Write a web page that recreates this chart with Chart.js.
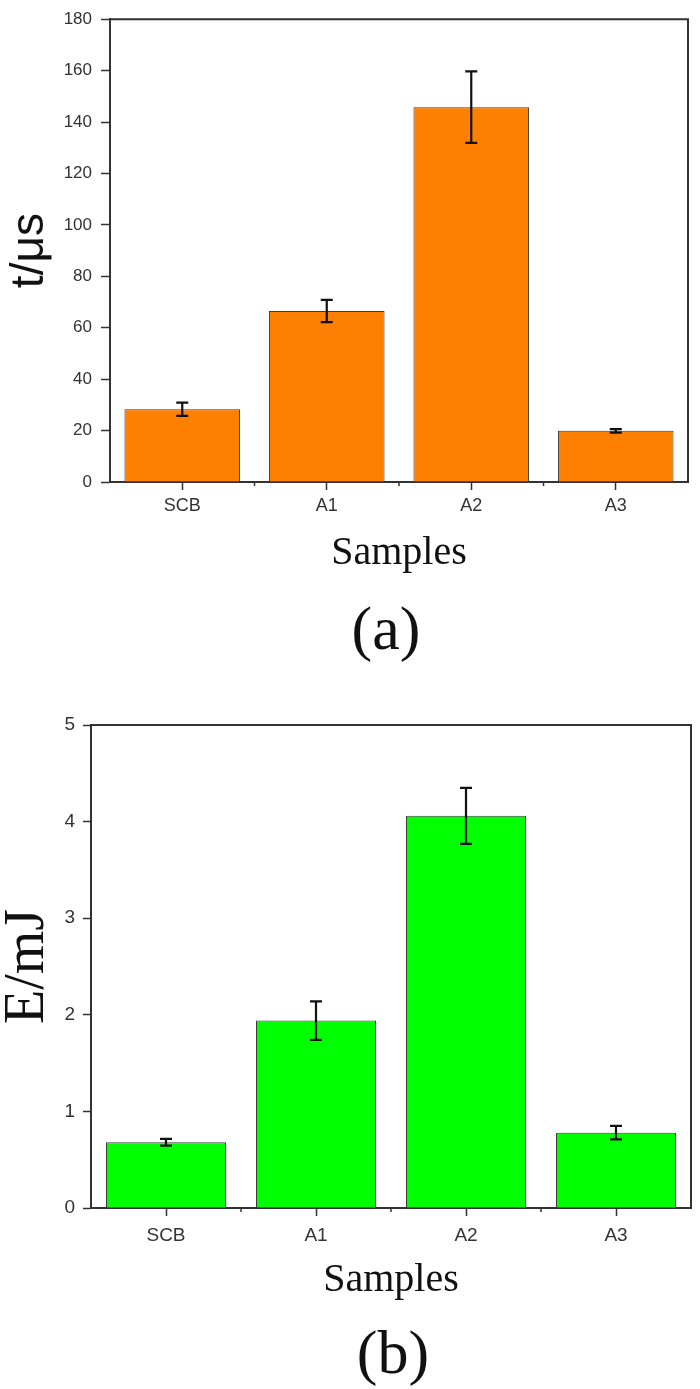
<!DOCTYPE html>
<html>
<head>
<meta charset="utf-8">
<script src="https://cdn.jsdelivr.net/npm/chart.js@4/dist/chart.umd.min.js"></script>
<style>
  body { margin: 0; background: #fff; }
  #wrap { position: relative; width: 700px; height: 1389px; }
  canvas { position: absolute; left: 0; }
  #c1 { top: 0; }
  #c2 { top: 690px; }
  .cap {
    position: absolute;
    font-family: "Liberation Serif", "DejaVu Serif", serif;
    font-size: 62px;
    line-height: 62px;
    color: #111;
    transform: translate(-50%, -50%);
  }
</style>
</head>
<body>
<div id="wrap">
  <canvas id="c1" width="700" height="700"></canvas>
  <canvas id="c2" width="700" height="699"></canvas>
  <div class="cap" style="left:386px; top:628px;">(a)</div>
  <div class="cap" style="left:393px; top:1352px;">(b)</div>
</div>
<script>
// サンプル名
const labels = ["SCB", "A1", "A2", "A3"]

// (a) t/μs
const tValues = [28.3, 66.5, 145.8, 19.9]
const tErrors = [2.6, 4.3, 13.9, 0.7]

// (b) E/mJ
const eValues = [0.68, 1.94, 4.06, 0.78]
const eErrors = [0.035, 0.2, 0.29, 0.07]

const axisColor = "#333"

// error bars, from the y scale
const errorBars = {
  id: "errorBars",
  afterDatasetsDraw(chart, args, opts) {
    const ctx = chart.ctx
    const y = chart.scales.y
    const meta = chart.getDatasetMeta(0)
    const vals = chart.data.datasets[0].data
    ctx.save()
    ctx.strokeStyle = "#111"
    ctx.lineWidth = 2.2
    meta.data.forEach((bar, i) => {
      let hi = y.getPixelForValue(vals[i] + opts.err[i])
      let lo = y.getPixelForValue(vals[i] - opts.err[i])
      ctx.beginPath()
      ctx.moveTo(bar.x, hi)
      ctx.lineTo(bar.x, lo)
      ctx.moveTo(bar.x - 6, hi)
      ctx.lineTo(bar.x + 6, hi)
      ctx.moveTo(bar.x - 6, lo)
      ctx.lineTo(bar.x + 6, lo)
      ctx.stroke()
    })
    ctx.restore()
  },
}

// top/right frame + small ticks between categories
const frame = {
  id: "frame",
  afterDraw(chart) {
    const ctx = chart.ctx
    const a = chart.chartArea
    const x = chart.scales.x
    ctx.save()
    ctx.strokeStyle = axisColor
    ctx.lineWidth = 2
    ctx.beginPath()
    ctx.moveTo(a.left, a.top)
    ctx.lineTo(a.right, a.top)
    ctx.lineTo(a.right, a.bottom)
    ctx.stroke()
    ctx.lineWidth = 1.5
    for (let i = 0; i < labels.length - 1; i++) {
      let mx = (x.getPixelForValue(i) + x.getPixelForValue(i + 1)) / 2
      ctx.beginPath()
      ctx.moveTo(mx, a.bottom)
      ctx.lineTo(mx, a.bottom + 4)
      ctx.stroke()
    }
    ctx.restore()
  },
}

function makeChart(id, cfg) {
  return new Chart(document.getElementById(id), {
    type: "bar",
    data: {
      labels: labels,
      datasets: [
        {
          data: cfg.values,
          backgroundColor: cfg.color,
          borderColor: "#3a3a3a",
          borderWidth: 1,
          barPercentage: 0.8,
          categoryPercentage: 1,
        },
      ],
    },
    plugins: [errorBars, frame],
    options: {
      responsive: false,
      animation: false,
      layout: { padding: cfg.padding },
      plugins: {
        legend: { display: false },
        tooltip: { enabled: false },
        errorBars: { err: cfg.errors },
      },
      scales: {
        x: {
          offset: true,
          grid: {
            offset: false,
            drawOnChartArea: false,
            drawTicks: true,
            tickLength: 8,
            tickWidth: 1.5,
            tickColor: axisColor,
          },
          border: { color: axisColor, width: 2 },
          ticks: {
            color: "#333",
            padding: cfg.xPad,
            font: { family: "Liberation Sans", size: cfg.xFont },
          },
          title: {
            display: true,
            text: "Samples",
            color: "#111",
            padding: 0,
            font: { family: "Liberation Serif", size: 40, lineHeight: 1.2 },
          },
          afterFit(s) {
            s.height = cfg.xHeight
          },
        },
        y: {
          min: 0,
          max: cfg.max,
          grid: {
            drawOnChartArea: false,
            drawTicks: true,
            tickLength: cfg.yTick,
            tickWidth: 1.5,
            tickColor: axisColor,
          },
          border: { color: axisColor, width: 2 },
          ticks: {
            stepSize: cfg.step,
            color: "#333",
            padding: cfg.yTick,
            font: { family: "Liberation Sans", size: cfg.yFont },
          },
          title: {
            display: true,
            text: cfg.yTitle,
            color: "#111",
            padding: { top: cfg.titlePad, bottom: 0 },
            font: { family: cfg.titleFamily, size: cfg.titleSize, lineHeight: 1 },
          },
          afterFit(s) {
            s.width = cfg.yWidth
          },
        },
      },
    },
  })
}

makeChart("c1", {
  values: tValues,
  errors: tErrors,
  color: "#FF8000",
  max: 180,
  step: 20,
  yTitle: "t/μs",
  titleFamily: "Liberation Sans",
  titleSize: 46,
  titlePad: 7,
  yWidth: 110,
  yTick: 9,
  yFont: 17,
  xFont: 18,
  xPad: 5,
  xHeight: 95,
  padding: { top: 15, right: 12, left: 0, bottom: 123 },
})

makeChart("c2", {
  values: eValues,
  errors: eErrors,
  color: "#00FF00",
  max: 5,
  step: 1,
  yTitle: "E/mJ",
  titleFamily: "Liberation Serif",
  titleSize: 56,
  titlePad: 0,
  yWidth: 91,
  yTick: 8,
  yFont: 19,
  xFont: 19,
  xPad: 8,
  xHeight: 96,
  padding: { top: 35, right: 9, left: 0, bottom: 85 },
})
</script>
</body>
</html>
